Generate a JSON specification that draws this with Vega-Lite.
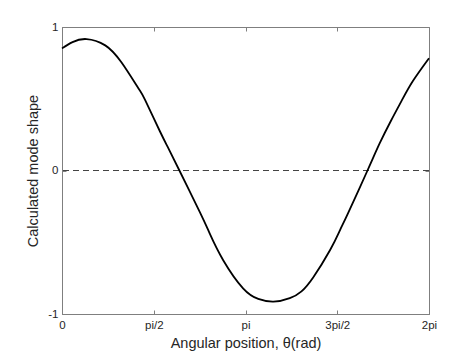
{
  "$schema": "https://vega.github.io/schema/vega-lite/v6.json",
  "width": 367,
  "height": 287,
  "autosize": "none",
  "padding": {"left": 62, "top": 27, "right": 45, "bottom": 39},
  "background": "white",
  "config": {
    "font": "Liberation Sans",
    "view": {"stroke": "#7f7f7f", "strokeWidth": 1},
    "axis": {
      "domainColor": "#7f7f7f",
      "tickColor": "#7f7f7f",
      "labelColor": "#262626",
      "titleColor": "#262626",
      "labelFont": "Liberation Sans",
      "titleFont": "Liberation Sans",
      "labelFontSize": 11.5,
      "titleFontSize": 14.5,
      "titleFontWeight": "normal",
      "grid": false
    }
  },
  "data": {
    "values": [
      {"theta": 0.0, "v": 0.851},
      {"theta": 0.18, "v": 0.895},
      {"theta": 0.42, "v": 0.916},
      {"theta": 0.74, "v": 0.872},
      {"theta": 1.02, "v": 0.752},
      {"theta": 1.31, "v": 0.572},
      {"theta": 1.42, "v": 0.494},
      {"theta": 1.68, "v": 0.27},
      {"theta": 1.82, "v": 0.156},
      {"theta": 2.01, "v": 0.0},
      {"theta": 2.36, "v": -0.29},
      {"theta": 2.53, "v": -0.44},
      {"theta": 2.76, "v": -0.625},
      {"theta": 3.1, "v": -0.821},
      {"theta": 3.36, "v": -0.895},
      {"theta": 3.62, "v": -0.914},
      {"theta": 3.9, "v": -0.89},
      {"theta": 4.1, "v": -0.842},
      {"theta": 4.3, "v": -0.745},
      {"theta": 4.59, "v": -0.554},
      {"theta": 4.76, "v": -0.415},
      {"theta": 4.9, "v": -0.295},
      {"theta": 5.23, "v": 0.0},
      {"theta": 5.44, "v": 0.19},
      {"theta": 5.63, "v": 0.345},
      {"theta": 5.82, "v": 0.49},
      {"theta": 6.01, "v": 0.625},
      {"theta": 6.2832, "v": 0.782}
    ]
  },
  "layer": [
    {
      "layer": [
        {
          "mark": {"type": "rule", "color": "#444444", "strokeDash": [6, 4], "strokeWidth": 1},
          "encoding": {
            "y": {
              "datum": 0,
              "type": "quantitative",
              "scale": {"domain": [-1, 1], "nice": false},
              "axis": {
                "title": "Calculated mode shape",
                "values": [-1, 0, 1],
                "labelExpr": "datum.value > 0.5 ? '1' : (datum.value < -0.5 ? '-1' : '0')",
                "tickSize": -4,
                "labelPadding": 8,
                "titlePadding": 7,
                "labelFlush": false
              }
            }
          }
        },
        {
          "mark": {"type": "line", "color": "black", "strokeWidth": 1.8, "interpolate": "natural"},
          "encoding": {
            "x": {
              "field": "theta",
              "type": "quantitative",
              "scale": {"domain": [0, 6.2831853], "nice": false, "zero": false},
              "axis": {
                "title": "Angular position, θ(rad)",
                "values": [0, 1.5707963, 3.1415927, 4.712389, 6.2831853],
                "labelExpr": "['0','pi/2','pi','3pi/2','2pi'][round(datum.value/1.5707963)]",
                "tickSize": -4,
                "labelPadding": 9,
                "titlePadding": 6,
                "labelFlush": false
              }
            },
            "y": {
              "field": "v",
              "type": "quantitative",
              "scale": {"domain": [-1, 1], "nice": false},
              "axis": {
                "title": "Calculated mode shape",
                "values": [-1, 0, 1],
                "labelExpr": "datum.value > 0.5 ? '1' : (datum.value < -0.5 ? '-1' : '0')",
                "tickSize": -4,
                "labelPadding": 8,
                "titlePadding": 7,
                "labelFlush": false
              }
            }
          }
        }
      ]
    },
    {
      "mark": {"type": "line", "opacity": 0},
      "encoding": {
        "x": {
          "field": "theta",
          "type": "quantitative",
          "axis": {
            "orient": "top",
            "title": null,
            "labels": false,
            "domain": false,
            "values": [0, 1.5707963, 3.1415927, 4.712389, 6.2831853],
            "tickSize": -4
          }
        },
        "y": {
          "field": "v",
          "type": "quantitative",
          "axis": {
            "orient": "right",
            "title": null,
            "labels": false,
            "domain": false,
            "values": [-1, 0, 1],
            "tickSize": -4
          }
        }
      }
    }
  ],
  "resolve": {"axis": {"x": "independent", "y": "independent"}}
}
